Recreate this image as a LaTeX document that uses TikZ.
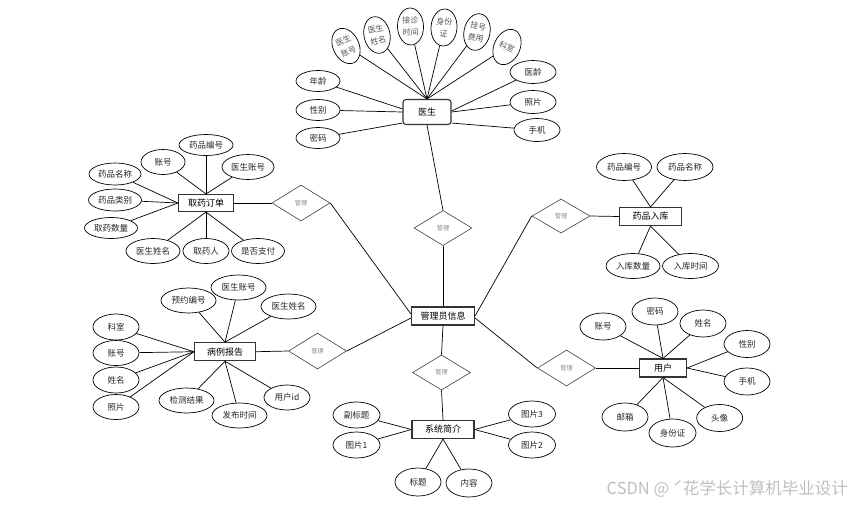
\documentclass[tikz,border=0pt]{standalone}
\usepackage{fontspec}
\setmainfont{Noto Sans CJK SC}
\usetikzlibrary{shapes.geometric}
\begin{document}
\begin{tikzpicture}[x=1pt,y=-1pt,
  conn/.style={line width=0.7pt,draw=black},
  attr/.style={ellipse,draw=black,line width=0.7pt,fill=white,inner sep=0pt,
     minimum width=54pt,minimum height=25pt,font=\fontsize{8.5}{10}\selectfont,text=black!85},
  attrs/.style={attr,minimum width=46pt,minimum height=26pt},
  tilt/.style={ellipse,draw=black,line width=0.7pt,fill=white,inner sep=0pt,
     minimum width=26pt,minimum height=37pt,align=center,
     font=\fontsize{8}{12}\selectfont,text=black!65},
  ent/.style={rectangle,draw=black!80,line width=1.1pt,fill=white,inner sep=0pt,
     minimum height=18pt,font=\fontsize{9}{10}\selectfont},
  rel/.style={diamond,draw=black!75,line width=0.6pt,fill=white,inner sep=0pt,
     minimum width=58pt,minimum height=35pt,font=\fontsize{6.2}{7}\selectfont,text=black!45}
]
\useasboundingbox[fill=white] (0,0) rectangle (850,504);

% ---------- doctor ----------
\node[ent,rounded corners=3pt,minimum width=48pt,minimum height=25pt] (doc) at (427,112) {医生};
\node[tilt,rotate=25] (t1) at (346,46) {医生\\账号};
\node[tilt,rotate=12] (t2) at (377,35) {医生\\姓名};
\node[tilt,rotate=2] (t3) at (410.5,26.5) {接诊\\时间};
\node[tilt,rotate=-4] (t4) at (444,27.5) {身份\\证};
\node[tilt,rotate=-12] (t5) at (477,32) {挂号\\费用};
\node[tilt,rotate=-25] (t6) at (507,47) {科室};
\node[attr,minimum width=44pt,minimum height=21pt] (dage) at (318,81) {年龄};
\node[attr,minimum width=44pt,minimum height=21pt] (dsex) at (318,110) {性别};
\node[attr,minimum width=44pt,minimum height=21pt] (dpwd) at (318,138) {密码};
\node[attr,minimum width=46pt,minimum height=23pt] (dyl) at (533,72) {医龄};
\node[attr,minimum width=46pt,minimum height=23pt] (dpic) at (533,102) {照片};
\node[attr,minimum width=46pt,minimum height=23pt] (dtel) at (537,130) {手机};
\foreach \t in {t1,t2,t3,t4,t5,t6} \draw[conn] (\t) -- (doc.north);
\draw[conn] (dage) -- ([yshift=3pt]doc.west);
\draw[conn] (dsex) -- (doc.west);
\draw[conn] (dpwd) -- ([yshift=2pt]doc.south west);
\draw[conn] (dyl) -- ([yshift=1pt]doc.east);
\draw[conn] (dpic) -- (doc.east);
\draw[conn] (dtel) -- ([yshift=2pt]doc.south east);

% ---------- admin ----------
\node[rel] (dtop) at (443,228) {管理};
\node[ent,minimum width=63pt] (adm) at (443,316) {管理员信息};
\draw[conn] (doc.south) -- (dtop.north);
\draw[conn] (dtop.south) -- (adm.north);

% ---------- order ----------
\node[ent,minimum width=55pt,minimum height=17pt] (ord) at (206,203) {取药订单};
\node[rel,minimum height=36pt] (dord) at (301,203) {管理};
\node[attr,minimum height=21pt] (o1) at (206,145) {药品编号};
\node[attrs,minimum width=44pt,minimum height=25pt] (o2) at (163,162) {账号};
\node[attr,minimum width=52pt] (o3) at (248,167) {医生账号};
\node[attr,minimum width=52pt,minimum height=22pt] (o4) at (115,174) {药品名称};
\node[attr,minimum width=53pt,minimum height=22pt] (o5) at (115,200) {药品类别};
\node[attr,minimum width=53pt,minimum height=21pt] (o6) at (111,228) {取药数量};
\node[attr] (o7) at (153,251) {医生姓名};
\node[attrs,minimum height=25pt] (o8) at (206,251) {取药人};
\node[attr,minimum width=53pt] (o9) at (258,251) {是否支付};
\foreach \e in {o1,o2,o3} \draw[conn] (\e) -- (ord.north);
\foreach \e in {o4,o5,o6} \draw[conn] (\e) -- (ord.west);
\foreach \e in {o7,o8,o9} \draw[conn] (\e) -- (ord.south);
\draw[conn] (ord.east) -- (dord.west);
\draw[conn] (dord.east) -- ([yshift=2pt]adm.west);

% ---------- drug in ----------
\node[ent,minimum width=62pt] (din) at (650.5,216.5) {药品入库};
\node[rel,minimum height=34pt] (ddin) at (561,216) {管理};
\node[attr,minimum width=55pt,minimum height=27pt] (i1) at (624,167) {药品编号};
\node[attr,minimum width=56pt,minimum height=27pt] (i2) at (685,167) {药品名称};
\node[attr] (i3) at (633,266) {入库数量};
\node[attr,minimum width=56pt] (i4) at (690.5,266) {入库时间};
\foreach \e in {i1,i2} \draw[conn] (\e) -- (din.north);
\foreach \e in {i3,i4} \draw[conn] (\e) -- (din.south);
\draw[conn] (din.west) -- (ddin.east);
\draw[conn] (adm.east) -- (ddin.west);

% ---------- case report ----------
\node[ent,minimum width=61pt] (cas) at (225,351.7) {病例报告};
\node[rel,minimum height=36pt] (dcas) at (317.5,351) {管理};
\node[attr,minimum width=55pt] (c1) at (188.5,300.5) {预约编号};
\node[attr,minimum width=55pt] (c2) at (238.5,287.5) {医生账号};
\node[attr,minimum width=55pt] (c3) at (288.5,306.5) {医生姓名};
\node[attrs] (c4) at (116,327) {科室};
\node[attrs,minimum height=25pt] (c5) at (116,353) {账号};
\node[attrs] (c6) at (116,380) {姓名};
\node[attrs,minimum height=25pt] (c7) at (116,407) {照片};
\node[attr,minimum width=55pt] (c8) at (186.5,400.5) {检测结果};
\node[attr,minimum width=55pt] (c9) at (239.5,415.5) {发布时间};
\node[attrs,minimum height=25pt] (c10) at (287,397.5) {用户id};
\foreach \e in {c1,c2,c3} \draw[conn] (\e) -- (cas.north);
\foreach \e in {c4,c5,c6,c7} \draw[conn] (\e) -- (cas.west);
\foreach \e in {c8,c9,c10} \draw[conn] (\e) -- (cas.south);
\draw[conn] (cas.east) -- (dcas.west);
\draw[conn] (dcas.east) -- ([yshift=-2pt]adm.west);

% ---------- user ----------
\node[ent,minimum width=47pt] (usr) at (663,368) {用户};
\node[rel,minimum height=36pt] (dusr) at (566.5,368) {管理};
\node[attrs,minimum height=27pt] (u1) at (603,326.5) {账号};
\node[attrs,minimum height=27pt] (u2) at (655,311.5) {密码};
\node[attrs,minimum height=27pt] (u3) at (703,323.5) {姓名};
\node[attrs,minimum height=27pt] (u4) at (747,344) {性别};
\node[attrs,minimum height=27pt] (u5) at (747,381.5) {手机};
\node[attrs,minimum height=27pt] (u6) at (719.7,418) {头像};
\node[attrs,minimum width=47pt,minimum height=28pt] (u7) at (672.5,433) {身份证};
\node[attrs,minimum height=28pt] (u8) at (625,417) {邮箱};
\foreach \e in {u1,u2,u3} \draw[conn] (\e) -- (usr.north);
\foreach \e in {u4,u5} \draw[conn] (\e) -- (usr.east);
\foreach \e in {u6,u7,u8} \draw[conn] (\e) -- (usr.south);
\draw[conn] (usr.west) -- (dusr.east);
\draw[conn] ([yshift=-2pt]adm.east) -- (dusr.west);

% ---------- system intro ----------
\node[rel] (dsys) at (441.5,372.5) {管理};
\node[ent,minimum width=62pt] (sys) at (443,429.5) {系统简介};
\node[attrs,minimum width=47pt] (s1) at (356.5,415) {副标题};
\node[attrs,minimum width=47pt] (s2) at (356.5,445) {图片1};
\node[attrs,minimum width=47pt] (s3) at (532,414) {图片3};
\node[attrs,minimum width=47pt] (s4) at (532,445) {图片2};
\node[attrs,minimum height=28pt] (s5) at (418,482) {标题};
\node[attrs,minimum height=28pt] (s6) at (469,483) {内容};
\draw[conn] (adm.south) -- (dsys.north);
\draw[conn] (dsys.south) -- (sys.north);
\foreach \e in {s1,s2} \draw[conn] (\e) -- (sys.west);
\foreach \e in {s3,s4} \draw[conn] (\e) -- (sys.east);
\foreach \e in {s5,s6} \draw[conn] (\e) -- (sys.south);

% ---------- watermark ----------
\node[anchor=east,inner sep=0pt,text=black!25,font=\fontsize{16.5}{18}\selectfont] (wm) at (848,489) {CSDN @ ˊ花学长计算机毕业设计};
\end{tikzpicture}
\end{document}
